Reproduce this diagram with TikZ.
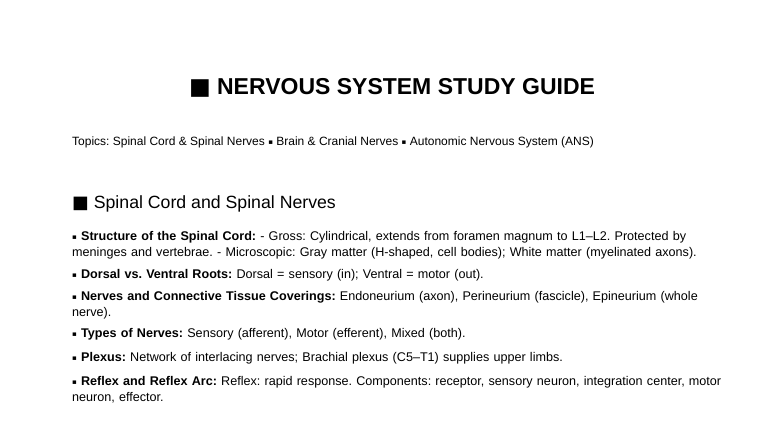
\documentclass[tikz,border=0pt]{standalone}
\usepackage{fontspec}
\setmainfont{Liberation Sans}
\newfontfamily\dv{DejaVu Sans}
\newcommand{\bul}{\raisebox{0.5pt}{\dv\scriptsize▪}}
\frenchspacing
\hyphenpenalty=10000
\exhyphenpenalty=10000
\begin{document}
\begin{tikzpicture}[x=1pt,y=-1pt,
 para/.style={anchor=north west,inner sep=0pt,text width=660pt,align=left,font=\fontsize{12.6}{16}\selectfont}]
\useasboundingbox (0,0) rectangle (784,441);
\node[inner sep=0pt,font=\fontsize{23}{27}\selectfont\bfseries] (title) at (392,88) {{\dv■} NERVOUS SYSTEM STUDY GUIDE};
\node[anchor=west,inner sep=0pt,font=\fontsize{12}{14}\selectfont] (topics) at (72,142) {Topics: Spinal Cord \& Spinal Nerves \bul{} Brain \& Cranial Nerves \bul{} Autonomic Nervous System (ANS)};
\node[anchor=west,inner sep=0pt,font=\fontsize{17.7}{20}\selectfont] (h1) at (72,204) {{\dv■} Spinal Cord and Spinal Nerves};
\node[para] (p1) at (72,231) {\bul{} \textbf{Structure of the Spinal Cord:} - Gross: Cylindrical, extends from foramen magnum to L1–L2. Protected by meninges and vertebrae. - Microscopic: Gray matter (H-shaped, cell bodies); White matter (myelinated axons).};
\node[para] (p2) at (72,269) {\bul{} \textbf{Dorsal vs. Ventral Roots:} Dorsal = sensory (in); Ventral = motor (out).};
\node[para] (p3) at (72,291) {\bul{} \textbf{Nerves and Connective Tissue Coverings:} Endoneurium (axon), Perineurium (fascicle), Epineurium (whole nerve).};
\node[para] (p4) at (72,328) {\bul{} \textbf{Types of Nerves:} Sensory (afferent), Motor (efferent), Mixed (both).};
\node[para] (p5) at (72,352) {\bul{} \textbf{Plexus:} Network of interlacing nerves; Brachial plexus (C5–T1) supplies upper limbs.};
\node[para] (p6) at (72,376) {\bul{} \textbf{Reflex and Reflex Arc:} Reflex: rapid response. Components: receptor, sensory neuron, integration center, motor neuron, effector.};
\end{tikzpicture}
\end{document}
